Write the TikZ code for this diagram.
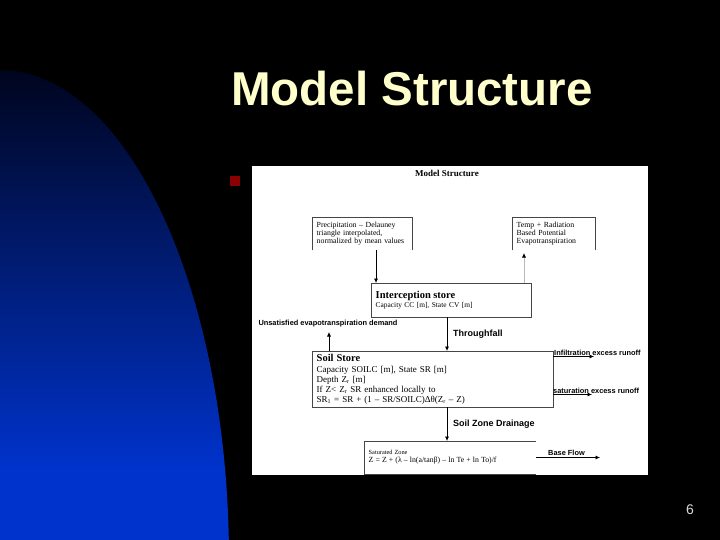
\documentclass[tikz,border=0pt]{standalone}
\usepackage{fontspec}
\setmainfont{Liberation Serif}
\setsansfont{Liberation Sans}
\usetikzlibrary{positioning, arrows.meta}
\definecolor{slidetop}{RGB}{0,5,30}
\definecolor{slidebot}{RGB}{0,51,204}
\definecolor{titlecol}{RGB}{255,255,204}
\definecolor{bulletred}{RGB}{140,0,0}
\definecolor{rimgray}{RGB}{70,70,70}
\newcommand{\fsz}[2]{\fontsize{#1}{#2}\selectfont}

\begin{document}
\begin{tikzpicture}[x=1pt,y=-1pt,
  box/.style={inner xsep=4.5pt, inner ysep=0pt, align=left, anchor=north west, font=\fsz{7.8}{8.2}},
  rim/.style={draw=rimgray, line width=0.7pt},
  flowlab/.style={font=\sffamily\bfseries\fsz{9}{10}, inner sep=0pt, anchor=base west},
  sidelab/.style={font=\sffamily\bfseries\fsz{7.4}{8}, inner sep=0pt, anchor=base west},
  arr/.style={-{Latex[length=4.5pt,width=4pt]}, line width=0.7pt},
  arrgray/.style={-{Latex[length=4.5pt,width=4pt,black]}, draw=gray!55, line width=0.7pt}]
\useasboundingbox (0,0) rectangle (720,540);
% slide background
\fill[black] (0,0) rectangle (720,540);
\begin{scope}
\clip (0,560) ellipse [x radius=229pt, y radius=490pt];
\shade[top color=slidetop, bottom color=slidebot] (0,70) rectangle (240,470);
\fill[slidebot] (0,469) rectangle (240,540);
\end{scope}
% slide title
\node[font=\sffamily\bfseries\fsz{47.5}{50}, text=titlecol, anchor=base west, inner sep=0pt] (title) at (231,106) {Model Structure};
\fill[bulletred] (230,176) rectangle (240,186);
\node[font=\sffamily\fsz{14}{16}, text=white!85!black] (pageno) at (690,510) {6};
% white panel
\fill[white] (252,166) rectangle (648,475);
\node[font=\bfseries\fsz{9}{10}] (ptitle) at (447,173) {Model Structure};
% boxes
\node[box, text width=91pt, minimum height=33pt] (precip) at (312,217)
  {Precipitation -- Delauney\\triangle interpolated,\\normalized by mean values};
\node[box, text width=74pt, minimum height=33pt] (temp) at (512,217)
  {Temp + Radiation\\Based Potential\\Evapotranspiration};
\node[box, text width=151pt, minimum height=34pt, font=\fsz{7.4}{8}] (intc) at (371,283)
  {{\bfseries\fsz{10.5}{11}Interception store}\\[1pt]Capacity CC [m], State CV [m]};
\node[box, text width=232pt, minimum height=56pt, font=\fsz{9}{10}] (soil) at (312,351)
  {{\bfseries\fsz{10.5}{11}Soil Store}\\[1pt]Capacity SOILC [m], State SR [m]\\Depth Z\textsubscript{r} [m]\\If Z< Z\textsubscript{r} SR enhanced locally to\\SR\textsubscript{1} = SR + (1 -- SR/SOILC)Δθ(Z\textsubscript{r} -- Z)};
\node[box, text width=163pt, minimum height=32.5pt, font=\fsz{6.3}{7}] (satz) at (364,441)
  {Saturated Zone\\[0.8pt]{\fsz{7.8}{8}Z = Z + (λ -- ln(a/tanβ) -- ln Te + ln To)/f}};
\draw[rim] (precip.south west) |- (precip.north east) -- (precip.south east);
\draw[rim] (temp.south west) |- (temp.north east) -- (temp.south east);
\draw[rim] (intc.south west) rectangle (intc.north east);
\draw[rim] (soil.south west) rectangle (soil.north east);
\draw[rim] (satz.north east) -| (satz.south west) -- (satz.south east);
% flow labels
\node[flowlab] (thru) at (453,336.5) {Throughfall};
\node[flowlab] (drain) at (453,426.5) {Soil Zone Drainage};
\node[sidelab, anchor=base] (unsat) at (328,325) {Unsatisfied evapotranspiration demand};
\node[sidelab] (infl) at (554,355) {Infiltration excess runoff};
\node[sidelab] (satx) at (553,393.5) {saturation excess runoff};
\node[sidelab] (base) at (548,455) {Base Flow};
% connectors
\coordinate (evtip) at (524,253);
\coordinate (unsattip) at (329,332);
\coordinate (infltip) at (594,356.5);
\coordinate (sattip) at (592,394.5);
\coordinate (basetip) at (600,457.5);
\draw[arr] (376,0 |- precip.south) -- (376,0 |- intc.north);
\draw[arrgray] (524,0 |- intc.north) -- (evtip);
\draw[arr] (447,0 |- intc.south) -- (447,0 |- soil.north);
\draw[arr] (329,0 |- soil.north) -- (unsattip);
\draw[arr] (447,0 |- soil.south) -- (447,0 |- satz.north);
\draw[arr] (soil.east |- infltip) -- (infltip);
\draw[arr] (soil.east |- sattip) -- (sattip);
\draw[arr] (satz.east |- basetip) -- (basetip);
\end{tikzpicture}
\end{document}
